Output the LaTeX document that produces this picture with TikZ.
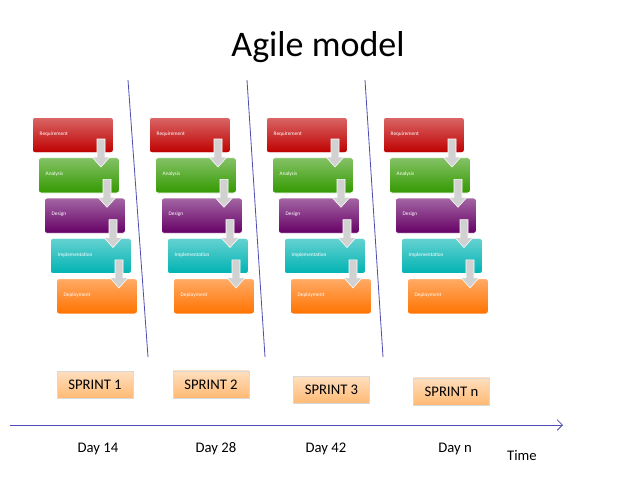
\documentclass[tikz,border=0pt]{standalone}
\usepackage{fontspec}
\setmainfont{Carlito}
\usetikzlibrary{arrows.meta}
\begin{document}
\begin{tikzpicture}[x=0.75pt,y=-0.75pt,
  phase/.style={draw=white,line width=0.6pt,rounded corners=2pt,minimum width=60.75pt,minimum height=26.5pt,anchor=north west,inner sep=0pt},
  ptxt/.style={font=\fontsize{4}{5}\selectfont,text=white,anchor=west},
  sprint/.style={draw=black!15,top color=orange!25,bottom color=orange!55,minimum width=57pt,minimum height=20.5pt,font=\fontsize{11}{13}\selectfont,inner sep=0pt},
  barrow/.style={fill=black!18,draw=white,line width=0.4pt},
  divider/.style={draw=blue!40!gray,line width=0.6pt},
  daytxt/.style={font=\fontsize{11}{13}\selectfont}]
\useasboundingbox (0,0) rectangle (638,479);
\fill[white] (0,0) rectangle (638,479);
\node[font=\fontsize{27}{32}\selectfont] (title) at (318,47) {Agile model};
\foreach \g/\gx in {1/32,2/149,3/266,4/383}{
  \foreach \i/\lab/\c in {0/Requirement/red!75!black,1/Analysis/green!50!black!80!yellow,2/Design/violet!80!black,3/Implementation/cyan!70!black,4/Deployment/orange!90!red}{
    \pgfmathsetmacro{\bx}{\gx+6*\i}
    \pgfmathsetmacro{\by}{117+40.3*\i}
    \node[phase,top color=\c!60,bottom color=\c] (b\g\i) at (\bx,\by) {};
    \node[ptxt] (t\g\i) at (\bx+3,\by+17) {\lab};
  }
  \foreach \i in {0,1,2,3}{
    \pgfmathsetmacro{\ax}{\gx+6*\i+69}
    \pgfmathsetmacro{\ay}{117+40.3*\i+22}
    \draw[barrow] (\ax-4,\ay) -- (\ax+4,\ay) -- (\ax+4,\ay+18) -- (\ax+9,\ay+18) -- (\ax,\ay+28) -- (\ax-9,\ay+18) -- (\ax-4,\ay+18) -- cycle;
  }
}
\coordinate (d1a) at (128,80); \coordinate (d1b) at (148,357);
\coordinate (d2a) at (247,80); \coordinate (d2b) at (265,357);
\coordinate (d3a) at (365,80); \coordinate (d3b) at (383,357);
\draw[divider] (d1a) -- (d1b);
\draw[divider] (d2a) -- (d2b);
\draw[divider] (d3a) -- (d3b);
\node[sprint] (s1) at (95,385) {SPRINT 1};
\node[sprint] (s2) at (211,384.5) {SPRINT 2};
\node[sprint] (s3) at (331.5,390) {SPRINT 3};
\node[sprint] (s4) at (451.5,391.5) {SPRINT n};
\coordinate (ax0) at (10,425); \coordinate (ax1) at (563,425);
\draw[divider,-{Straight Barb[length=4pt]}] (ax0) -- (ax1);
\node[daytxt] (d14) at (98,449) {Day 14};
\node[daytxt] (d28) at (216,449) {Day 28};
\node[daytxt] (d42) at (326,449) {Day 42};
\node[daytxt] (dn) at (455,449) {Day n};
\node[daytxt] (time) at (522,455) {Time};
\end{tikzpicture}
\end{document}
